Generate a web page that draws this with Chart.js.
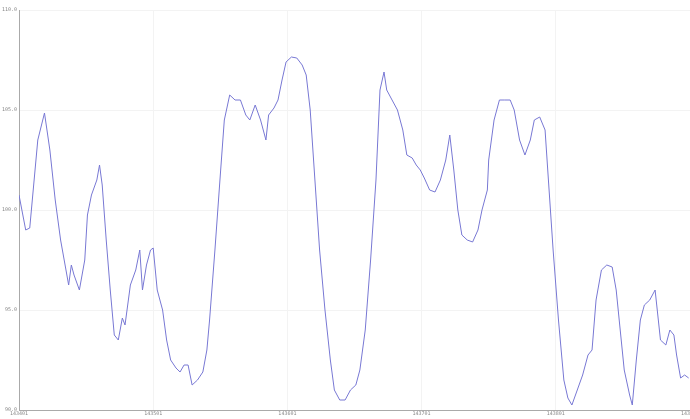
<!DOCTYPE html>
<html>
<head>
<meta charset="utf-8">
<script src="https://cdn.jsdelivr.net/npm/chart.js@4"></script>
<style>
  html, body { margin: 0; padding: 0; background: #fff; }
  #wrap { width: 690px; height: 419px; }
</style>
</head>
<body>
<div id="wrap"><canvas id="chart" width="690" height="419"></canvas></div>
<script>
// offsets from the first tick (143401) and the values
const StartLabel = 143401;
const Steps = [0, 5, 8, 14, 19, 23, 27, 31, 35, 37, 39, 41, 45, 49, 51, 54, 58, 60, 62, 65,
  68, 71, 74, 77, 79, 83, 87, 90, 92, 95, 98, 100, 103, 107, 110, 113, 117, 120, 123, 126,
  129, 133, 137, 140, 142, 146, 150, 153, 157, 161, 165, 169, 172, 176, 180, 184, 186, 190, 193, 196,
  199, 203, 207, 211, 214, 217, 220, 224, 228, 232, 235, 239, 243, 247, 251, 254, 258, 262, 266, 269,
  272, 274, 278, 282, 286, 289, 293, 296, 299, 302, 306, 310, 314, 318, 321, 324, 327, 330, 334, 338,
  342, 345, 349, 350, 354, 358, 362, 366, 369, 373, 377, 381, 384, 388, 392, 394, 398, 402, 406, 409,
  412, 416, 420, 424, 427, 430, 434, 438, 442, 445, 448, 451, 455, 457, 460, 463, 466, 470, 474, 478,
  482, 485, 488, 490, 493, 496, 499];
const Prices = [100.75, 99.0, 99.1, 103.5, 104.85, 103.0, 100.5, 98.5, 97.0, 96.25, 97.25, 96.75, 96.0, 97.5, 99.75, 100.75, 101.5, 102.25, 101.25, 98.5,
  96.0, 93.75, 93.5, 94.6, 94.25, 96.25, 97.0, 98.0, 96.0, 97.25, 98.0, 98.1, 96.0, 95.0, 93.5, 92.5, 92.1, 91.9, 92.25, 92.25,
  91.25, 91.5, 91.9, 93.0, 94.5, 98.0, 101.75, 104.5, 105.75, 105.5, 105.5, 104.75, 104.5, 105.25, 104.5, 103.5, 104.75, 105.1, 105.5, 106.5,
  107.4, 107.65, 107.6, 107.25, 106.75, 105.0, 102.0, 98.0, 95.0, 92.5, 91.0, 90.5, 90.5, 91.0, 91.25, 92.0, 94.0, 97.5, 101.5, 106.0,
  106.9, 106.0, 105.5, 105.0, 104.0, 102.75, 102.6, 102.25, 102.0, 101.6, 101.0, 100.9, 101.5, 102.5, 103.75, 102.0, 100.0, 98.75, 98.5, 98.4,
  99.0, 100.0, 101.0, 102.5, 104.5, 105.5, 105.5, 105.5, 105.0, 103.5, 102.75, 103.5, 104.5, 104.65, 104.0, 102.0, 98.0, 94.5, 91.5, 90.6,
  90.25, 91.0, 91.75, 92.75, 93.0, 95.5, 97.0, 97.25, 97.15, 96.0, 94.0, 92.0, 90.75, 90.25, 92.5, 94.5, 95.25, 95.5, 96.0, 93.5,
  93.25, 94.0, 93.75, 92.75, 91.6, 91.75, 91.6];
const XTicks = [0, 100, 200, 300, 400, 500];
const YTicks = [90, 95, 100, 105, 110];

const points = Steps.map((s, i) => ({ x: s, y: Prices[i] }));

const tickFont = { family: 'DejaVu Sans Mono', size: 5 };

new Chart(document.getElementById('chart'), {
    type: 'line',
    data: {
        datasets: [{
            data: points,
            borderColor: '#7878d4',
            borderWidth: 1,
            pointRadius: 0,
            tension: 0,
            fill: false
        }]
    },
    options: {
        responsive: false,
        animation: false,
        layout: { padding: { top: 10, right: 0, left: 0, bottom: 0 } },
        plugins: { legend: { display: false }, tooltip: { enabled: false } },
        scales: {
            x: {
                type: 'linear',
                min: 0,
                max: 500,
                afterFit: function(scale) {
                    scale.height = 9;
                    scale.paddingLeft = 0;
                    scale.paddingRight = 0;
                },
                afterBuildTicks: function(scale) {
                    scale.ticks = XTicks.map(v => ({ value: v }));
                },
                ticks: {
                    font: tickFont,
                    color: '#888',
                    padding: 1,
                    maxRotation: 0,
                    autoSkip: false,
                    callback: v => String(StartLabel + v)
                },
                grid: { color: '#f3f3f3', drawTicks: false },
                border: { color: '#aaa', width: 1 }
            },
            y: {
                min: 90,
                max: 110,
                afterFit: function(scale) {
                    scale.width = 19;
                    scale.paddingTop = 0;
                    scale.paddingBottom = 0;
                },
                afterBuildTicks: function(scale) {
                    scale.ticks = YTicks.map(v => ({ value: v }));
                },
                ticks: {
                    font: tickFont,
                    color: '#888',
                    padding: 2,
                    callback: v => v.toFixed(1)
                },
                grid: { color: '#f3f3f3', drawTicks: false },
                border: { color: '#aaa', width: 1 }
            }
        }
    }
});
</script>
</body>
</html>
